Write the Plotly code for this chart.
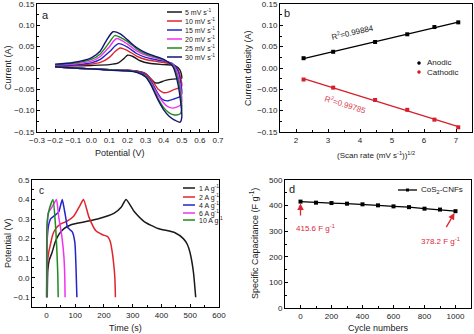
import plotly.graph_objects as go
import numpy as np

W, H = 474, 334
FONT = "Liberation Sans, Arial, sans-serif"

# ---------------- Panel a: CV curves ----------------
cv_labels = ["5 mV s<sup>-1</sup>", "10 mV s<sup>-1</sup>", "15 mV s<sup>-1</sup>",
             "20 mV s<sup>-1</sup>", "25 mV s<sup>-1</sup>", "30 mV s<sup>-1</sup>"]
cv_colors = ["#1a1a1a", "#e0242b", "#2424c8", "#f032f0", "#1f8a1f", "#141470"]

cv_v_5 = [-0.2, -0.1, 0.0, 0.1, 0.15, 0.18, 0.2, 0.23, 0.27, 0.32, 0.4, 0.46, 0.49, 0.5,
          0.49, 0.45, 0.41, 0.37, 0.35, 0.33, 0.3, 0.25, 0.2, 0.1, 0.0, -0.1, -0.2]
cv_i_5 = [0.005, 0.005, 0.006, 0.008, 0.012, 0.022, 0.030, 0.027, 0.017, 0.011, 0.008, 0.006, -0.005, -0.024,
          -0.025, -0.026, -0.029, -0.035, -0.034, -0.026, -0.013, -0.007, -0.005, -0.004, -0.002, 0.000, 0.003]
cv_v_10 = [-0.2, -0.1, 0.0, 0.05, 0.1, 0.13, 0.16, 0.2, 0.25, 0.3, 0.35, 0.4, 0.45, 0.48, 0.5,
           0.49, 0.46, 0.43, 0.4, 0.37, 0.35, 0.33, 0.3, 0.25, 0.2, 0.1, 0.0, -0.1, -0.2]
cv_i_10 = [0.005, 0.006, 0.009, 0.013, 0.025, 0.038, 0.047, 0.041, 0.028, 0.020, 0.016, 0.013, 0.008, -0.005, -0.042,
           -0.046, -0.050, -0.056, -0.058, -0.050, -0.038, -0.026, -0.014, -0.007, -0.005, -0.004, -0.002, 0.000, 0.003]
cv_v_15 = [-0.2, -0.1, 0.0, 0.05, 0.1, 0.15, 0.2, 0.25, 0.3, 0.35, 0.4, 0.45, 0.48, 0.5,
           0.49, 0.46, 0.42, 0.39, 0.37, 0.35, 0.33, 0.3, 0.25, 0.2, 0.1, 0.0, -0.1, -0.2]
cv_i_15 = [0.006, 0.007, 0.012, 0.020, 0.038, 0.057, 0.049, 0.034, 0.025, 0.020, 0.016, 0.010, -0.008, -0.060,
           -0.067, -0.072, -0.077, -0.073, -0.061, -0.046, -0.031, -0.016, -0.008, -0.006, -0.004, -0.002, 0.000, 0.003]
cv_v_20 = [-0.2, -0.1, 0.0, 0.05, 0.1, 0.14, 0.2, 0.25, 0.3, 0.35, 0.4, 0.45, 0.48, 0.5,
           0.49, 0.45, 0.42, 0.4, 0.37, 0.35, 0.33, 0.3, 0.25, 0.2, 0.1, 0.0, -0.1, -0.2]
cv_i_20 = [0.007, 0.009, 0.016, 0.027, 0.050, 0.069, 0.056, 0.040, 0.030, 0.024, 0.018, 0.008, -0.018, -0.078,
           -0.088, -0.094, -0.090, -0.082, -0.065, -0.050, -0.034, -0.018, -0.009, -0.006, -0.004, -0.002, 0.000, 0.003]
cv_v_25 = [-0.2, -0.1, 0.0, 0.05, 0.1, 0.13, 0.2, 0.25, 0.3, 0.35, 0.4, 0.45, 0.48, 0.5,
           0.49, 0.46, 0.43, 0.4, 0.37, 0.35, 0.33, 0.3, 0.25, 0.2, 0.1, 0.0, -0.1, -0.2]
cv_i_25 = [0.008, 0.011, 0.020, 0.033, 0.060, 0.076, 0.062, 0.045, 0.033, 0.026, 0.019, 0.006, -0.028, -0.095,
           -0.108, -0.110, -0.105, -0.093, -0.072, -0.055, -0.037, -0.019, -0.009, -0.006, -0.004, -0.002, 0.000, 0.003]
cv_v_30 = [-0.2, -0.1, 0.0, 0.05, 0.08, 0.12, 0.16, 0.2, 0.25, 0.3, 0.35, 0.4, 0.45, 0.48, 0.5,
           0.49, 0.46, 0.43, 0.4, 0.37, 0.35, 0.33, 0.3, 0.25, 0.2, 0.1, 0.0, -0.1, -0.2]
cv_i_30 = [0.009, 0.013, 0.024, 0.040, 0.062, 0.085, 0.080, 0.066, 0.048, 0.036, 0.028, 0.020, 0.004, -0.040, -0.115,
           -0.127, -0.122, -0.113, -0.098, -0.076, -0.058, -0.040, -0.021, -0.010, -0.007, -0.005, -0.002, 0.000, 0.003]

cv_v = [cv_v_5, cv_v_10, cv_v_15, cv_v_20, cv_v_25, cv_v_30]
cv_i = [cv_i_5, cv_i_10, cv_i_15, cv_i_20, cv_i_25, cv_i_30]

# ---------------- Panel b: peak currents ----------------
sqrt_scan = [2.236, 3.162, 4.472, 5.477, 6.325, 7.071]
anodic = [0.023, 0.038, 0.061, 0.079, 0.096, 0.107]
cathodic = [-0.027, -0.046, -0.075, -0.098, -0.121, -0.139]
r2_anodic = "R<sup>2</sup>=0.99884"
r2_cathodic = "R<sup>2</sup>=0.99785"

# ---------------- Panel c: GCD curves ----------------
gcd_labels = ["1 A g<sup>-1</sup>", "2 A g<sup>-1</sup>", "4 A g<sup>-1</sup>",
              "6 A g<sup>-1</sup>", "10 A g<sup>-1</sup>"]
gcd_colors = ["#1a1a1a", "#e0242b", "#2424c8", "#f032f0", "#1f8a1f"]
gcd_t_1 = [3, 5, 10, 20, 30, 43, 60, 84, 130, 178, 236, 260, 277, 306, 341, 388, 447, 476, 490, 499, 511, 519]
gcd_v_1 = [-0.1, 0.04, 0.09, 0.13, 0.18, 0.22, 0.25, 0.27, 0.285, 0.30, 0.33, 0.36, 0.40,
           0.337, 0.286, 0.252, 0.23, 0.20, 0.17, 0.13, 0.03, -0.1]
gcd_t_2 = [2, 4, 8, 14, 22, 32, 50, 72, 95, 115, 129, 148, 172, 195, 213, 222, 228, 234, 238, 240]
gcd_v_2 = [-0.1, 0.08, 0.13, 0.17, 0.22, 0.25, 0.275, 0.29, 0.315, 0.365, 0.40, 0.31, 0.24, 0.22, 0.21, 0.185,
           0.14, 0.07, 0.0, -0.1]
gcd_t_4 = [1, 3, 8, 14, 30, 43, 55, 61, 67, 73, 82, 90, 99, 103, 106]
gcd_v_4 = [-0.1, 0.2, 0.27, 0.30, 0.32, 0.337, 0.40, 0.36, 0.31, 0.26, 0.245, 0.235, 0.18, 0.05, -0.1]
gcd_t_6 = [1, 3, 6, 20, 35, 43, 53, 61, 64, 65]
gcd_v_6 = [-0.1, 0.25, 0.33, 0.363, 0.40, 0.31, 0.22, 0.107, 0.0, -0.1]
gcd_t_10 = [1, 2, 5, 10, 23, 32, 37, 40, 41]
gcd_v_10 = [-0.1, 0.27, 0.31, 0.35, 0.40, 0.26, 0.12, 0.0, -0.1]
gcd_t = [gcd_t_1, gcd_t_2, gcd_t_4, gcd_t_6, gcd_t_10]
gcd_v = [gcd_v_1, gcd_v_2, gcd_v_4, gcd_v_6, gcd_v_10]

# ---------------- Panel d: cycling ----------------
cycles = [0, 100, 200, 300, 400, 500, 600, 700, 800, 900, 1000]
capacitance = [415.6, 411.5, 410.0, 407.5, 405.0, 401.0, 397.0, 394.0, 388.0, 384.5, 378.2]

# ---------------- layout helpers ----------------
def px(x):
    return x / W

def py(y):
    return 1 - y / H

fig = go.Figure()

for k in range(6):
    fig.add_trace(go.Scatter(x=cv_v[k], y=cv_i[k], mode="lines", xaxis="x", yaxis="y",
                             line=dict(color=cv_colors[k], width=1.4, shape="spline", smoothing=0.7),
                             showlegend=False, hoverinfo="skip"))

xx = np.array(sqrt_scan)
for vals, col in [(anodic, "#000000"), (cathodic, "#d61f2a")]:
    coef = np.polyfit(xx, np.array(vals), 1)
    xs = np.array([xx.min(), xx.max()])
    fig.add_trace(go.Scatter(x=xs, y=np.polyval(coef, xs), mode="lines", xaxis="x2", yaxis="y2",
                             line=dict(color=col, width=1.3), showlegend=False, hoverinfo="skip"))
    fig.add_trace(go.Scatter(x=sqrt_scan, y=vals, mode="markers", xaxis="x2", yaxis="y2",
                             marker=dict(color=col, size=4, symbol="square"), showlegend=False))

for k in range(5):
    fig.add_trace(go.Scatter(x=gcd_t[k], y=gcd_v[k], mode="lines", xaxis="x3", yaxis="y3",
                             line=dict(color=gcd_colors[k], width=1.5, shape="spline", smoothing=0.5),
                             showlegend=False, hoverinfo="skip"))

fig.add_trace(go.Scatter(x=cycles, y=capacitance, mode="lines+markers", xaxis="x4", yaxis="y4",
                         line=dict(color="#000000", width=1.3),
                         marker=dict(color="#000000", size=4, symbol="square"), showlegend=False))

def axis(dom, rng, dtick, fmt, anchor, minor):
    return dict(domain=dom, range=rng, dtick=dtick, tick0=0, tickformat=fmt, anchor=anchor,
                automargin=False,
                showline=True, linecolor="black", linewidth=1, mirror=True, tickangle=0,
                ticks="inside", ticklen=3, tickcolor="black", showgrid=False, zeroline=False,
                tickfont=dict(family=FONT, size=8, color="#222"),
                minor=dict(ticks="inside", ticklen=2, tickcolor="black", dtick=minor, showgrid=False))

fig.update_layout(
    width=W, height=H, margin=dict(l=0, r=0, t=0, b=0, autoexpand=False),
    paper_bgcolor="white", plot_bgcolor="white", showlegend=False,
    font=dict(family=FONT, size=9, color="#222"),
    xaxis=axis([px(37), px(218)], [-0.3, 0.7], 0.1, ".1f", "y", 0.05),
    yaxis=axis([py(132), py(4)], [-0.15, 0.15], 0.05, ".2f", "x", 0.025),
    xaxis2=axis([px(280), px(472)], [1.5, 7.5], 1, "d", "y2", 0.5),
    yaxis2=axis([py(132), py(4)], [-0.15, 0.15], 0.05, ".2f", "x2", 0.025),
    xaxis3=axis([px(32), px(219)], [-50, 600], 100, "d", "y3", 50),
    yaxis3=axis([py(307), py(180)], [-0.15, 0.5], 0.1, ".1f", "x3", 0.05),
    xaxis4=axis([px(285), px(471)], [-100, 1100], 200, "d", "y4", 100),
    yaxis4=axis([py(308), py(180)], [0, 500], 100, "d", "x4", 50),
)

ann = []
shapes = []

def text(x, y, s, size=9, color="#222", angle=0, xanchor="center"):
    ann.append(dict(x=px(x), y=py(y), xref="paper", yref="paper", text=s, showarrow=False,
                    textangle=angle, xanchor=xanchor, yanchor="middle",
                    font=dict(family=FONT, size=size, color=color)))

# panel letters
text(45, 15, "a", size=11)
text(287, 13, "b", size=11)
text(41, 190, "c", size=10)
text(292, 189, "d", size=11)

# axis titles
text(120, 153, "Potential (V)")
text(8, 68, "Current (A)", angle=-90)
text(376, 155, "(Scan rate (mV s<sup>-1</sup>))<sup>1/2</sup>", size=8)
text(248, 68, "Current density (A)", angle=-90)
text(125, 328, "Time (s)")
text(8, 243, "Potential (V)", angle=-90)
text(378, 328, "Cycle numbers")
text(254, 244, "Specific Capacitance (F g<sup>-1</sup>)", angle=-90)

# legend a
rows_a = [12, 21, 30, 39, 48, 57]
for k in range(6):
    shapes.append(dict(type="line", xref="paper", yref="paper", x0=px(167), x1=px(182),
                       y0=py(rows_a[k]), y1=py(rows_a[k]), line=dict(color=cv_colors[k], width=1.5)))
    text(183, rows_a[k], cv_labels[k], size=7, xanchor="left")

# legend c
rows_c = [188, 197, 205, 213, 220]
for k in range(5):
    shapes.append(dict(type="line", xref="paper", yref="paper", x0=px(183), x1=px(195),
                       y0=py(rows_c[k]), y1=py(rows_c[k]), line=dict(color=gcd_colors[k], width=1.5)))
    text(197, rows_c[k], gcd_labels[k], size=7, xanchor="left")

# legend b
for yy, lab, col in [(63, "Anodic", "#000000"), (72, "Cathodic", "#d61f2a")]:
    shapes.append(dict(type="circle", xref="paper", yref="paper", x0=px(417.5), x1=px(420.5),
                       y0=py(yy + 1.5), y1=py(yy - 1.5), fillcolor=col, line=dict(color=col, width=0.5)))
    text(425, yy, lab, size=8, xanchor="left")

# R^2 labels
text(352, 32, r2_anodic, size=8, color="#222", angle=-13)
text(345, 104, r2_cathodic, size=8, color="#d8434f", angle=17)

# legend d
shapes.append(dict(type="line", xref="paper", yref="paper", x0=px(398), x1=px(417),
                   y0=py(190), y1=py(190), line=dict(color="black", width=1.3)))
shapes.append(dict(type="rect", xref="paper", yref="paper", x0=px(406), x1=px(409),
                   y0=py(191.5), y1=py(188.5), fillcolor="black", line=dict(color="black", width=0)))
text(419, 190, "CoS<sub>2</sub>-CNFs", size=8, xanchor="left")

# annotations d (arrows)
red = "#e0242b"
ann.append(dict(x=cycles[0], y=capacitance[0], xref="x4", yref="y4", ax=cycles[0], ay=355,
                axref="x4", ayref="y4", text="", showarrow=True, arrowhead=2, arrowsize=1,
                arrowwidth=1.3, arrowcolor=red, standoff=2, font=dict(size=8)))
ann.append(dict(x=cycles[-1], y=capacitance[-1], xref="x4", yref="y4", ax=935, ay=310,
                axref="x4", ayref="y4", text="", showarrow=True, arrowhead=2, arrowsize=1,
                arrowwidth=1.3, arrowcolor=red, standoff=2, font=dict(size=8)))
text(315, 228, "415.6 F g<sup>-1</sup>", size=8, color="#d8283c")
text(440, 241, "378.2 F g<sup>-1</sup>", size=8, color="#d8283c")

fig.update_layout(annotations=ann, shapes=shapes)
fig.write_html("out.html")
